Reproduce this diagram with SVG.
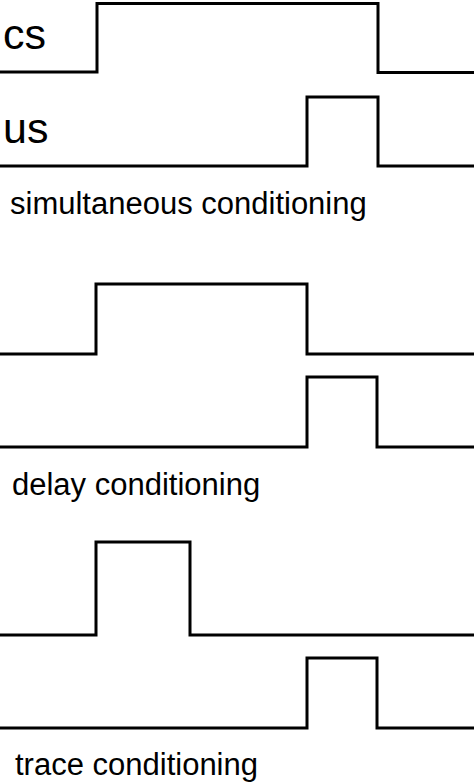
<svg xmlns="http://www.w3.org/2000/svg" width="474" height="784" viewBox="0 0 474 784">
<style>
.sig{fill:none;stroke:#000;stroke-width:3;stroke-linejoin:miter;stroke-linecap:butt}
.lbl{font-family:"Liberation Sans",Arial,sans-serif;fill:#000}
.big{font-size:43px}
.cap{font-size:31px}
</style>
<rect width="474" height="784" fill="#fff"/>
<g id="simultaneous">
<text class="lbl big" x="3" y="49">cs</text>
<text class="lbl big" x="3" y="143">us</text>
<path class="sig" d="M0,72 H97 V3.5 H378 V72.5 H474"/>
<path class="sig" d="M0,166 H307 V97 H378 V166 H474"/>
<text class="lbl cap" x="10" y="214">simultaneous conditioning</text>
</g>
<g id="delay">
<path class="sig" d="M0,354 H96 V284 H307 V354 H474"/>
<path class="sig" d="M0,447 H307 V377 H377 V447 H474"/>
<text class="lbl cap" x="12" y="495">delay conditioning</text>
</g>
<g id="trace">
<path class="sig" d="M0,635 H96 V542 H190 V635 H474"/>
<path class="sig" d="M0,728 H307 V658 H377 V728 H474"/>
<text class="lbl cap" x="15" y="775">trace conditioning</text>
</g>
</svg>
